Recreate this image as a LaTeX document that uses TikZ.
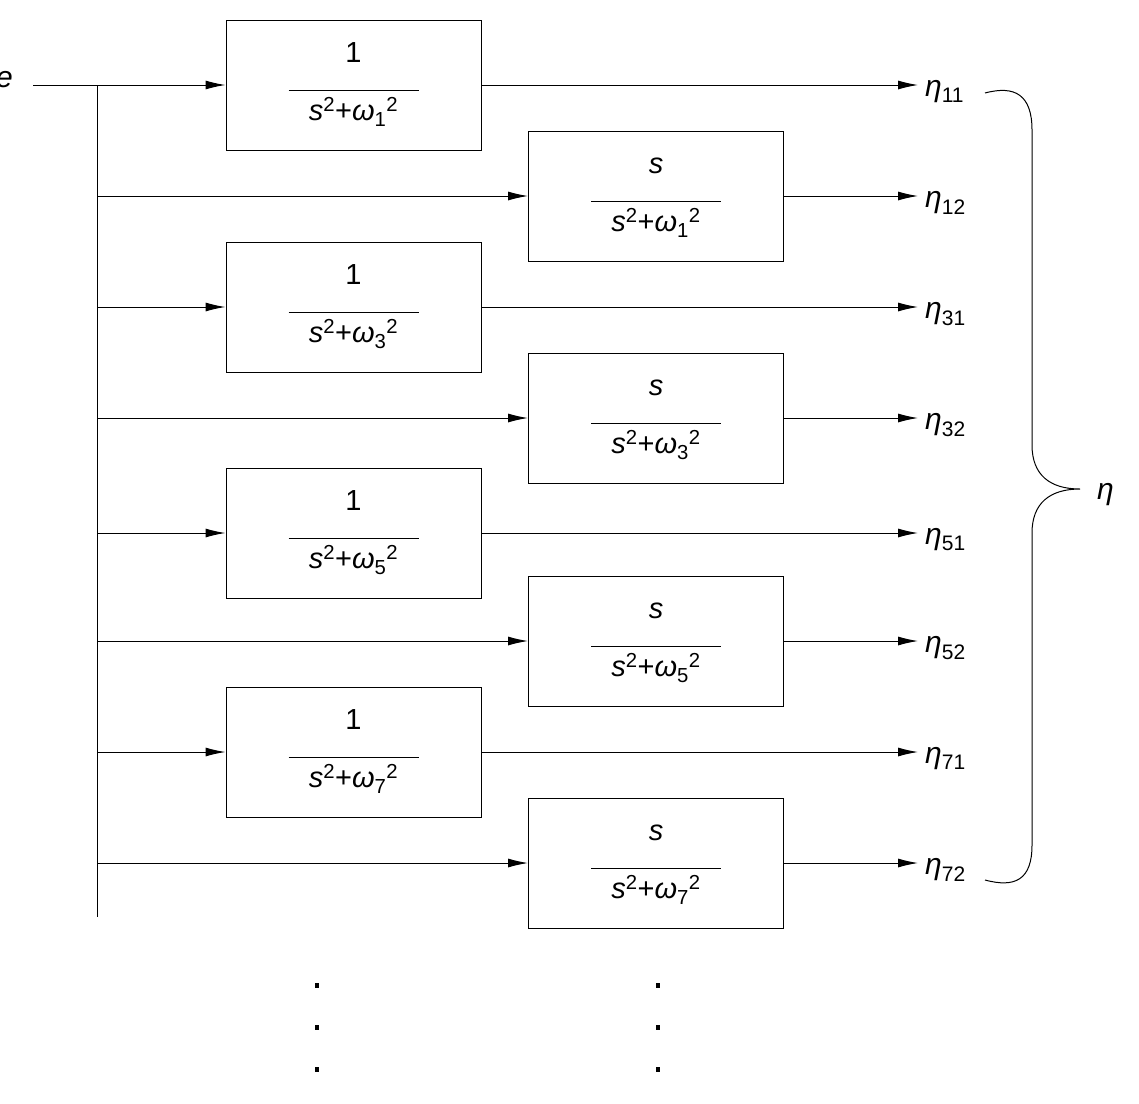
\documentclass[tikz,border=0pt]{standalone}
\usepackage{fontspec}
\setmainfont{Liberation Sans}
\usetikzlibrary{arrows.meta}
\newcommand{\myfr}[2]{\begin{tabular}{c}#1\\[-6pt]\rule{130pt}{1pt}\\[-4pt]#2\end{tabular}}
\newcommand{\dn}[1]{\textit{s}\textsuperscript{2}+\textit{ω}\textsubscript{#1}\textsuperscript{2}}
\begin{document}
\begin{tikzpicture}[x=1pt,y=-1pt,
  blk/.style={draw,line width=1pt,minimum width=255pt,minimum height=130pt,inner sep=0pt,font=\fontsize{29}{34}\selectfont},
  arr/.style={line width=1pt,-{Latex[length=20pt,width=9pt]}},
  lab/.style={anchor=west,font=\fontsize{30}{36}\selectfont,inner sep=0pt}]
\useasboundingbox (0,0) rectangle (1139,1103);
\node[blk] (b1) at (353.5,85) {\myfr{1}{\dn{1}}};
\node[blk] (b2) at (656,196) {\myfr{\textit{s}}{\dn{1}}};
\node[blk] (b3) at (353.5,307) {\myfr{1}{\dn{3}}};
\node[blk] (b4) at (656,418) {\myfr{\textit{s}}{\dn{3}}};
\node[blk] (b5) at (353.5,533) {\myfr{1}{\dn{5}}};
\node[blk] (b6) at (656,641) {\myfr{\textit{s}}{\dn{5}}};
\node[blk] (b7) at (353.5,752) {\myfr{1}{\dn{7}}};
\node[blk] (b8) at (656,863) {\myfr{\textit{s}}{\dn{7}}};
\node[lab] (e) at (-4,80) {\textit{e}};
\coordinate (top) at (97,85);
\coordinate (bot) at (97,917);
\draw[line width=1pt] (33,85) -- (top) (top) -- (bot);
\foreach \i/\y/\t in {1/85/11,2/196/12,3/307/31,4/418/32,5/533/51,6/641/52,7/752/71,8/863/72}{
  \coordinate (in\i) at (97,\y);
  \coordinate (end\i) at (918,\y);
  \node[lab] (o\i) at (925,\y+7) {\textit{η}\textsubscript{\t}};
  \draw[arr] (in\i) -- (b\i.west);
  \draw[arr] (b\i.east) -- (end\i);
}
\draw[line width=1pt] (985,93) .. controls (1015,85) and (1032,95) .. (1032,130) -- (1032,445)
  .. controls (1032,475) and (1050,489) .. (1080,489)
  .. controls (1050,489) and (1032,503) .. (1032,533) -- (1032,845)
  .. controls (1032,880) and (1015,888) .. (985,880);
\node[lab] (eta) at (1097,495) {\textit{η}};
\foreach \x in {317,658}{\foreach \y in {985,1027,1069}{\fill (\x-2,\y-2.5) rectangle (\x+2,\y+2.5);}}
\end{tikzpicture}
\end{document}
